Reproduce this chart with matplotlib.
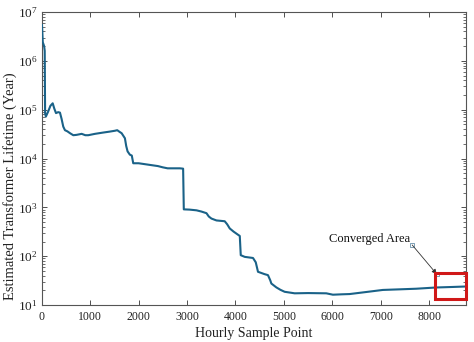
import matplotlib
matplotlib.use("Agg")
import matplotlib.pyplot as plt
from matplotlib.patches import Rectangle
from matplotlib.ticker import LogLocator, FixedLocator

plt.rcParams['font.family'] = ['Liberation Serif', 'DejaVu Serif']
plt.rcParams['mathtext.fontset'] = 'custom'
plt.rcParams['mathtext.rm'] = 'Liberation Serif'
plt.rcParams['mathtext.it'] = 'Liberation Serif:italic'

hours = [5, 12, 22, 50, 62, 70, 85, 130, 180, 227, 260, 295, 340, 377, 410, 445, 480,
         530, 584, 652, 720, 825, 900, 961, 1100, 1270, 1400, 1511, 1560, 1610, 1650,
         1718, 1745, 1773, 1820, 1860, 1890, 2000, 2233, 2400, 2500, 2600, 2852, 2920,
         2934, 3050, 3196, 3300, 3402, 3450, 3505, 3608, 3779, 3830, 3883, 3960, 4054,
         4090, 4110, 4192, 4363, 4420, 4466, 4600, 4672, 4720, 4742, 4845, 4930, 5016,
         5223, 5500, 5876, 6013, 6200, 6357, 6700, 7044, 7400, 7732, 8144, 8500, 8760]
lifetime = [5.4e6, 4e6, 2.4e6, 2.0e6, 1.6e6, 8.5e4, 7.2e4, 9e4, 1.2e5, 1.35e5, 1.05e5,
            8.5e4, 8.9e4, 8.7e4, 6.5e4, 4.5e4, 3.8e4, 3.6e4, 3.3e4, 3.0e4, 3.05e4, 3.2e4,
            3.0e4, 3.0e4, 3.2e4, 3.4e4, 3.55e4, 3.7e4, 3.8e4, 3.5e4, 3.3e4, 2.6e4, 1.8e4,
            1.4e4, 1.2e4, 1.15e4, 8e3, 8e3, 7.4e3, 7.0e3, 6.6e3, 6.3e3, 6.3e3, 6.2e3,
            910, 900, 870, 820, 760, 650, 590, 540, 520, 450, 370, 320, 275, 260, 105, 97,
            92, 75, 48, 43, 41, 32, 27.6, 23, 20.5, 18.7, 17.4, 17.6, 17.4, 16.3, 16.6,
            16.8, 18.5, 20.4, 21, 21.6, 22.9, 23.5, 24]

x_ticks = [0, 1000, 2000, 3000, 4000, 5000, 6000, 7000, 8000]
box_x = [8120, 8760]
box_y = [13, 45]
arrow_from = (7650, 170)
arrow_to = (8157, 43)
label_text = "Converged Area"

fig = plt.figure(figsize=(4.74, 3.42), dpi=100)
ax = fig.add_axes([0.088, 0.108, 0.895, 0.857])
ax.plot(hours, lifetime, color='#1a6288', lw=1.5, zorder=3)
ax.set_yscale('log')
ax.set_xlim(0, 8760)
ax.set_ylim(10, 1e7)
ax.xaxis.set_major_locator(FixedLocator(x_ticks))
ax.yaxis.set_major_locator(LogLocator(base=10, numticks=10))
ax.yaxis.set_minor_locator(LogLocator(base=10, subs=range(2, 10), numticks=10))
ax.tick_params(which='both', direction='in', top=True, right=True, colors='#333333',
               labelcolor='#222222')
ax.tick_params(axis='x', labelsize=8.5, pad=4)
ax.tick_params(axis='y', labelsize=9.5, pad=3)
ax.tick_params(which='major', length=3.5, width=0.6)
ax.tick_params(which='minor', length=2, width=0.5)
for s in ax.spines.values():
    s.set_color('#555555')
    s.set_linewidth(0.8)

ax.add_patch(Rectangle((box_x[0], box_y[0]), box_x[1] - box_x[0], box_y[1] - box_y[0],
                       fill=False, edgecolor='#d01818', lw=2.2, clip_on=False, zorder=5))
ax.annotate('', xy=arrow_to, xytext=arrow_from,
            arrowprops=dict(arrowstyle='-|>', color='#333333', lw=0.6,
                            mutation_scale=7, shrinkA=0, shrinkB=0))
ax.plot([arrow_from[0], arrow_to[0]], [arrow_from[1], arrow_to[1]], ls='none',
        marker='s', ms=2.5, mfc='none', mec='#4a7a9a', mew=0.5)
ax.text(6769, 221, label_text, ha='center', va='center', fontsize=9, color='#111111')

ax.set_xlabel('Hourly Sample Point', fontsize=10, color='#222222', labelpad=3)
fig.text(10 / 474, 1 - 186 / 342, 'Estimated Transformer Lifetime (Year)', rotation=90,
         ha='center', va='center', fontsize=10.5, color='#222222')

fig.savefig('out.png', dpi=100)
